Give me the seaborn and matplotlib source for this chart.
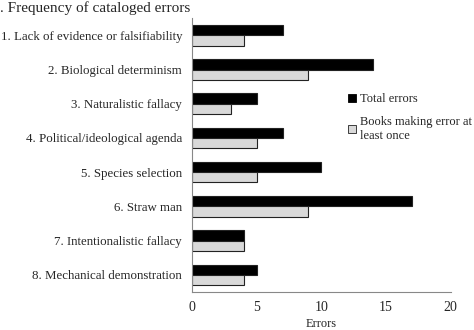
import matplotlib
matplotlib.use("Agg")
import matplotlib.pyplot as plt
import seaborn as sns
import pandas as pd
from matplotlib.patches import Patch

categories = [
    "1. Lack of evidence or falsifiability",
    "2. Biological determinism",
    "3. Naturalistic fallacy",
    "4. Political/ideological agenda",
    "5. Species selection",
    "6. Straw man",
    "7. Intentionalistic fallacy",
    "8. Mechanical demonstration",
]
total_errors = [7, 14, 5, 7, 10, 17, 4, 5]
books_errors = [4, 9, 3, 5, 5, 9, 4, 4]
series_names = ["Total errors", "Books making error at\nleast once"]
x_ticks = [0, 5, 10, 15, 20]

df = pd.DataFrame({
    "category": categories * 2,
    "value": total_errors + books_errors,
    "series": [series_names[0]] * len(categories) + [series_names[1]] * len(categories),
})

sns.set_theme(style="white")
plt.rcParams["font.family"] = ["Liberation Serif", "DejaVu Serif"]

fig = plt.figure(figsize=(4.74, 3.3), dpi=100)
ax = fig.add_axes([0.405, 0.115, 0.546, 0.83])

sns.barplot(data=df, y="category", x="value", hue="series", orient="h",
            palette=["#000000", "#d9d9d9"], width=0.6, ax=ax,
            edgecolor="#222222", linewidth=0.8, legend=False)

ax.set_xlim(0, 20)
ax.set_xticks(x_ticks)
ax.set_xlabel("Errors", fontsize=9, labelpad=3)
ax.set_ylabel("")
ax.tick_params(axis="x", labelsize=10, length=3, direction="inout", color="#888888", pad=5)
ax.tick_params(axis="y", labelsize=9.3, length=0, pad=7)
for side in ["top", "right"]:
    ax.spines[side].set_visible(False)
for side in ["left", "bottom"]:
    ax.spines[side].set_color("#888888")
    ax.spines[side].set_linewidth(0.8)

handles = [Patch(facecolor="#000000", edgecolor="#000000", linewidth=0.6),
           Patch(facecolor="#d9d9d9", edgecolor="#222222", linewidth=0.6)]
ax.legend(handles, series_names, loc="upper left", bbox_to_anchor=(0.585, 0.745),
          frameon=False, fontsize=9, handlelength=0.6, handleheight=0.6,
          handletextpad=0.3, labelspacing=0.9, borderaxespad=0)

fig.text(0.0, 0.995, ". Frequency of cataloged errors", fontsize=11, va="top", ha="left")

fig.savefig("out.png", dpi=100)
